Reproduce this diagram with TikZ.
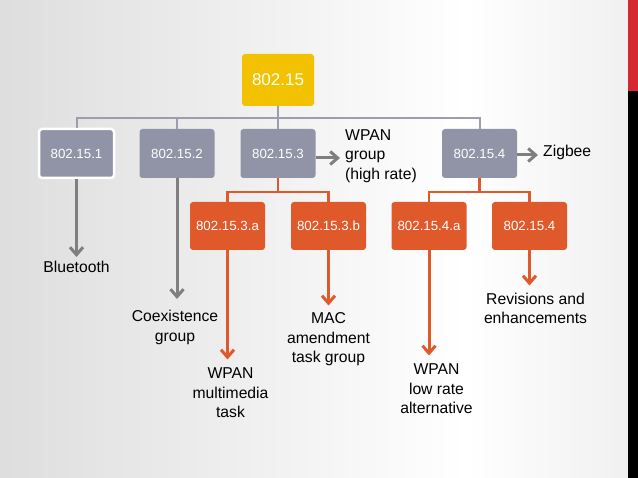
\documentclass[tikz,border=0pt]{standalone}
\usepackage{fontspec}
\setmainfont{Liberation Sans}
\usetikzlibrary{arrows.meta}
\definecolor{yel}{HTML}{F2C100}
\definecolor{gbox}{HTML}{9193A6}
\definecolor{obox}{HTML}{E0592A}
\definecolor{garr}{HTML}{7F7F7F}
\definecolor{busc}{HTML}{9C9EB0}
\definecolor{redstrip}{HTML}{D42A2F}
\pgfdeclarehorizontalshading{bgshade}{100bp}{color(0bp)=(black!22); color(62bp)=(white); color(100bp)=(black!17)}
\begin{document}
\begin{tikzpicture}[x=1pt,y=-1pt,
  box/.style={rounded corners=3pt, minimum width=75pt, minimum height=49pt, inner sep=0pt, text=white, font=\fontsize{13.3}{15}\selectfont},
  gb/.style={box, fill=gbox},
  ob/.style={box, fill=obox, minimum height=48pt},
  lbl/.style={align=center, font=\fontsize{15.7}{19.5}\selectfont, inner sep=0pt, anchor=north, text=black},
  busline/.style={draw=busc, line width=2pt},
  obus/.style={draw=obox, line width=2.2pt},
  garrow/.style={draw=garr, line width=3pt, -{Straight Barb[length=7.5pt,width=13pt]}},
  oarrow/.style={draw=obox, line width=3pt, -{Straight Barb[length=7.5pt,width=13pt]}}
]
\useasboundingbox (0,0) rectangle (638,478);
\shade[shading=bgshade] (0,0) rectangle (628,478);
\fill[black] (628,0) rectangle (638,478);
\fill[redstrip] (628,0) rectangle (638,91);

% top
\node[box, fill=yel, minimum width=72pt, minimum height=52pt, font=\fontsize{17}{20}\selectfont] (top) at (278,80) {802.15};
% level 2
\node[gb, draw=white, line width=2.5pt] (a1) at (76.5,153.5) {802.15.1};
\node[gb] (a2) at (177,153.5) {802.15.2};
\node[gb] (a3) at (278,153.5) {802.15.3};
\node[gb] (a4) at (479.5,153.5) {802.15.4};
% level 3
\node[ob] (b1) at (227.5,226) {802.15.3.a};
\node[ob] (b2) at (328.5,226) {802.15.3.b};
\node[ob] (b3) at (429,226) {802.15.4.a};
\node[ob] (b4) at (529.5,226) {802.15.4};

% labels
\node[lbl] (l1) at (76.5,261) {Bluetooth};
\node[lbl] (l2) at (175,310) {Coexistence\\group};
\node[lbl] (l3) at (230.5,367.5) {WPAN\\multimedia\\task};
\node[lbl] (l4) at (328.5,312.5) {MAC\\amendment\\task group};
\node[lbl] (l5) at (436.5,363.5) {WPAN\\low rate\\alternative};
\node[lbl] (l6) at (535.5,292.5) {Revisions and\\enhancements};
\node[lbl, align=left, anchor=north west] (wg) at (345,129.5) {WPAN\\group\\(high rate)};
\node[lbl, anchor=west] (zb) at (543,152) {Zigbee};

% gray bus
\coordinate (busy) at (0,118);
\draw[busline] (a1.north) -- (a1.north |- busy) -- (a4.north |- busy) -- (a4.north);
\draw[busline] (top.south) -- (top.south |- busy);
\draw[busline] (a2.north) -- (a2.north |- busy);
\draw[busline] (a3.north) -- (a3.north |- busy);

% orange buses
\coordinate (oby) at (0,192);
\draw[obus] (b1.north) -- (b1.north |- oby) -- (b2.north |- oby) -- (b2.north);
\draw[obus] (a3.south) -- (a3.south |- oby);
\draw[obus] (b3.north) -- (b3.north |- oby) -- (b4.north |- oby) -- (b4.north);
\draw[obus] (a4.south) -- (a4.south |- oby);

% gray arrows
\draw[garrow, shorten >=4pt] (a1.south) -- (a1.south |- l1.north);
\draw[garrow, shorten >=11pt] (a2.south) -- (a2.south |- l2.north);
\draw[garrow, shorten >=5pt] ([yshift=-4.5pt]a3.east) -- ([yshift=-4.5pt]a3.east -| wg.west);
\draw[garrow, shorten >=5pt] ([yshift=-1.5pt]a4.east) -- ([yshift=-1.5pt]a4.east -| zb.west);

% orange arrows
\draw[oarrow, shorten >=8pt] (b1.south) -- (b1.south |- l3.north);
\draw[oarrow, shorten >=7pt] (b2.south) -- (b2.south |- l4.north);
\draw[oarrow, shorten >=8pt] (b3.south) -- (b3.south |- l5.north);
\draw[oarrow, shorten >=7pt] (b4.south) -- (b4.south |- l6.north);
\end{tikzpicture}
\end{document}
